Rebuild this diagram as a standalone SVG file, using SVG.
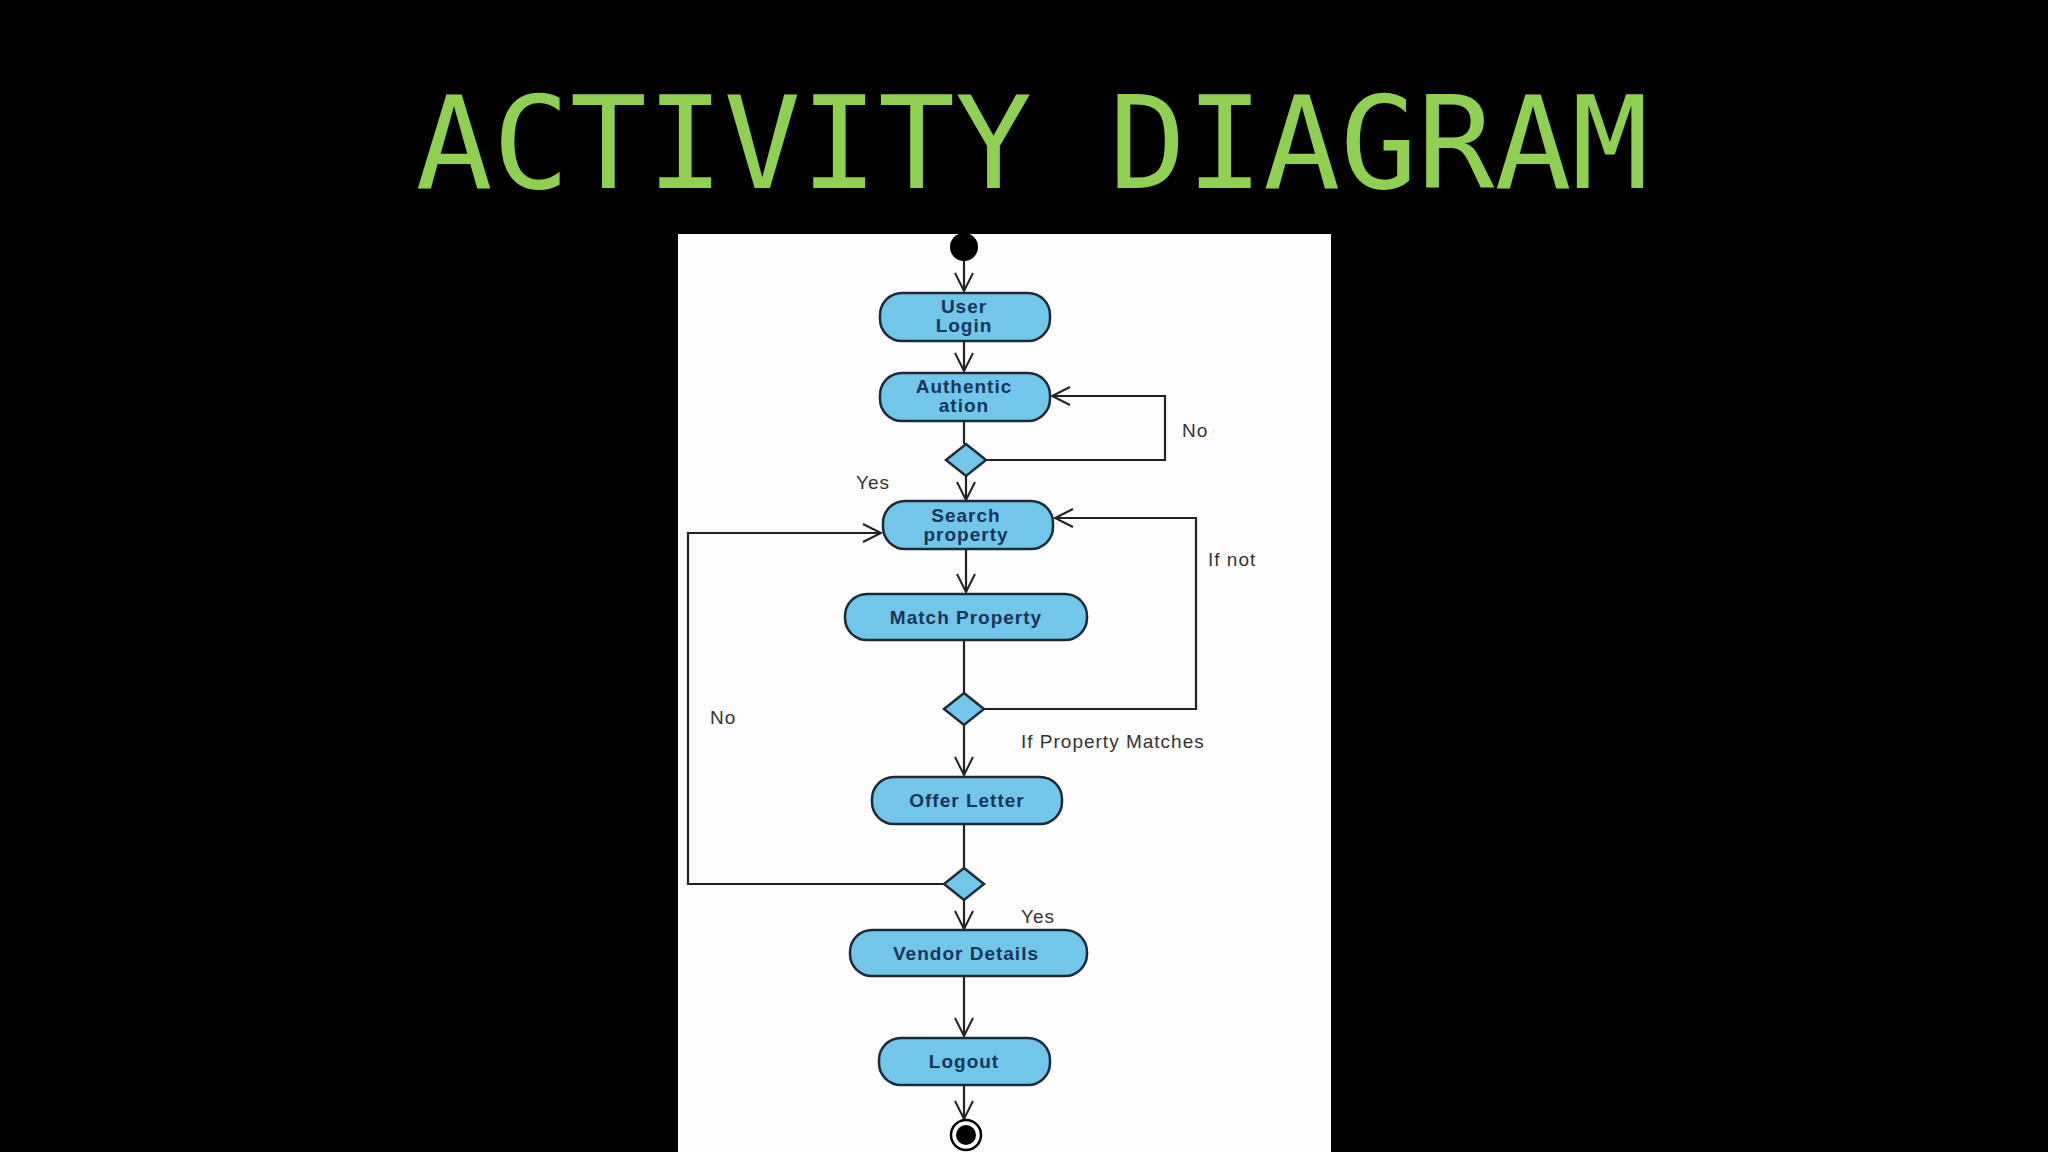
<svg xmlns="http://www.w3.org/2000/svg" width="2048" height="1152" viewBox="0 0 2048 1152">
<defs>
<style>
.n{fill:#72c6ea;stroke:#1d2b36;stroke-width:2.5}
.t{font-family:"Liberation Sans",Arial,sans-serif;font-size:19px;fill:#16365a;text-anchor:middle;letter-spacing:1px;font-weight:bold}
.l{font-family:"Liberation Sans",Arial,sans-serif;font-size:19px;fill:#333;letter-spacing:1px}
.c{fill:none;stroke:#222;stroke-width:2.2}
</style>
<marker id="a" markerWidth="24" markerHeight="24" refX="20" refY="12" orient="auto" markerUnits="userSpaceOnUse"><path d="M2,3 L20,12 L2,21" fill="none" stroke="#222" stroke-width="2"/></marker>
</defs>
<rect width="2048" height="1152" fill="#000"/>
<text x="1032" y="188" font-family="DejaVu Sans Mono,monospace" font-size="128" fill="#8fcf52" text-anchor="middle">ACTIVITY DIAGRAM</text>
<rect x="678" y="234" width="653" height="918" fill="#fdfdfd"/>
<g id="connectors">
<path class="c" d="M964,260 V291" marker-end="url(#a)"/>
<path class="c" d="M964,341 V371" marker-end="url(#a)"/>
<path class="c" d="M964,421 V444"/>
<path class="c" d="M986,460 H1165 V396 H1052" marker-end="url(#a)"/>
<path class="c" d="M966,476 V500" marker-end="url(#a)"/>
<path class="c" d="M966,549 V592" marker-end="url(#a)"/>
<path class="c" d="M964,640 V693"/>
<path class="c" d="M984,709 H1196 V518 H1055" marker-end="url(#a)"/>
<path class="c" d="M964,725 V775" marker-end="url(#a)"/>
<path class="c" d="M964,824 V868"/>
<path class="c" d="M944,884 H688 V533 H881" marker-end="url(#a)"/>
<path class="c" d="M964,900 V929" marker-end="url(#a)"/>
<path class="c" d="M964,976 V1036" marker-end="url(#a)"/>
<path class="c" d="M964,1085 V1119" marker-end="url(#a)"/>
</g>
<g id="start"><circle cx="964" cy="247" r="14" fill="#000"/></g>
<g id="userLogin"><rect class="n" x="880" y="293" width="170" height="48" rx="22"/><text class="t" x="964" y="313">User</text><text class="t" x="964" y="332">Login</text></g>
<g id="auth"><rect class="n" x="880" y="373" width="170" height="48" rx="22"/><text class="t" x="964" y="393">Authentic</text><text class="t" x="964" y="412">ation</text></g>
<g id="d1"><path class="n" d="M966,444 L986,460 L966,476 L946,460 Z"/></g>
<g id="search"><rect class="n" x="883" y="501" width="170" height="48" rx="22"/><text class="t" x="966" y="522">Search</text><text class="t" x="966" y="541">property</text></g>
<g id="match"><rect class="n" x="845" y="594" width="242" height="46" rx="22"/><text class="t" x="966" y="624">Match Property</text></g>
<g id="d2"><path class="n" d="M964,693 L984,709 L964,725 L944,709 Z"/></g>
<g id="offer"><rect class="n" x="872" y="777" width="190" height="47" rx="22"/><text class="t" x="967" y="807">Offer Letter</text></g>
<g id="d3"><path class="n" d="M964,868 L984,884 L964,900 L944,884 Z"/></g>
<g id="vendor"><rect class="n" x="850" y="930" width="237" height="46" rx="22"/><text class="t" x="966" y="960">Vendor Details</text></g>
<g id="logout"><rect class="n" x="879" y="1038" width="171" height="47" rx="22"/><text class="t" x="964" y="1068">Logout</text></g>
<g id="end"><circle cx="966" cy="1135" r="15" fill="#fff" stroke="#000" stroke-width="2.5"/><circle cx="966" cy="1135" r="10" fill="#000"/></g>
<g id="labels">
<text class="l" x="1182" y="437">No</text>
<text class="l" x="856" y="489">Yes</text>
<text class="l" x="1208" y="566">If not</text>
<text class="l" x="1021" y="748">If Property Matches</text>
<text class="l" x="710" y="724">No</text>
<text class="l" x="1021" y="923">Yes</text>
</g>
</svg>
